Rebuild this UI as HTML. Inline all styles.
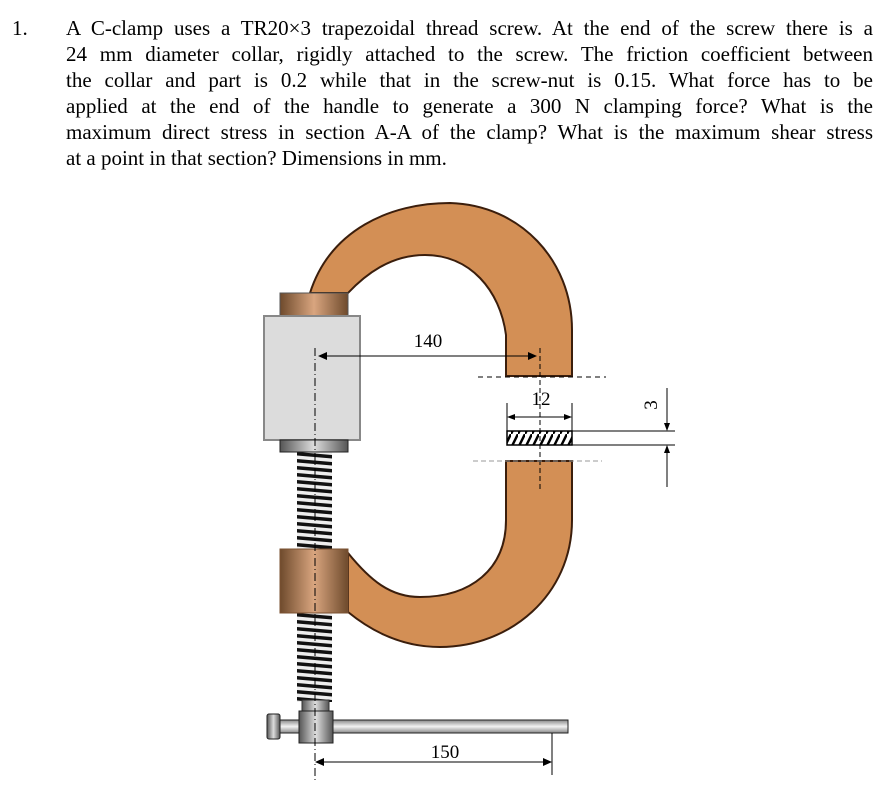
<!DOCTYPE html>
<html><head><style>
body{margin:0;background:#fff;width:888px;height:794px;overflow:hidden;font-family:"Liberation Serif",serif}
#n{position:absolute;left:12px;top:16px;font-size:21px}
#p{position:absolute;left:66px;top:15px;width:807px;font-size:21px;line-height:26px;color:#000}
#p div{text-align:justify;text-align-last:justify;white-space:nowrap;height:26px}
#p div.l{text-align-last:left}
svg{position:absolute;left:0;top:0}
</style></head><body>
<div id="n">1.</div>
<div id="p">
<div>A C-clamp uses a TR20×3 trapezoidal thread screw. At the end of the screw there is a</div>
<div>24 mm diameter collar, rigidly attached to the screw. The friction coefficient between</div>
<div>the collar and part is 0.2 while that in the screw-nut is 0.15. What force has to be</div>
<div>applied at the end of the handle to generate a 300 N clamping force? What is the</div>
<div>maximum direct stress in section A-A of the clamp? What is the maximum shear stress</div>
<div class="l">at a point in that section? Dimensions in mm.</div>
</div>
<svg width="888" height="794" viewBox="0 0 888 794">
<defs>
<linearGradient id="br" x1="0" x2="1"><stop offset="0" stop-color="#6e4a2c"/><stop offset="0.5" stop-color="#d9a57f"/><stop offset="1" stop-color="#6e4a2c"/></linearGradient>
<linearGradient id="gr" x1="0" x2="1"><stop offset="0" stop-color="#555"/><stop offset="0.5" stop-color="#ddd"/><stop offset="1" stop-color="#555"/></linearGradient>
<linearGradient id="gv" x1="0" y1="0" x2="0" y2="1"><stop offset="0" stop-color="#888"/><stop offset="0.5" stop-color="#f2f2f2"/><stop offset="1" stop-color="#888"/></linearGradient>
<pattern id="h" width="7" height="14" patternUnits="userSpaceOnUse"><path d="M0 14 L7 0" stroke="#000" stroke-width="2.5"/></pattern>
<pattern id="th" x="297" y="452" width="35" height="7" patternUnits="userSpaceOnUse"><rect width="35" height="7" fill="#eee"/><path d="M0 0 L35 3 L35 6.5 L0 3.5Z" fill="#111"/></pattern>
</defs>
<path d="M310 293 C330 230 390 203 450 203 C520 205 572 260 572 330 L572 376 L506 376 L506 335 C500 290 470 255 425 255 C390 255 365 275 348 293 Z" fill="#d38f55" stroke="#3b1e0c" stroke-width="2"/>
<path d="M348 553 C370 580 390 597 420 597 C470 597 506 570 506 520 L506 461 L572 461 L572 520 C572 595 510 647 440 647 C400 647 370 630 348 612 Z" fill="#d38f55" stroke="#3b1e0c" stroke-width="2"/>
<rect x="297" y="452" width="35" height="250" fill="url(#th)"/>
<rect x="302" y="700" width="27" height="12" fill="url(#gr)" stroke="#333"/>
<rect x="280" y="293" width="68" height="23" fill="url(#br)" stroke="#555"/>
<rect x="264" y="316" width="96" height="124" fill="#dcdcdc" stroke="#888" stroke-width="2"/>
<rect x="280" y="440" width="68" height="12" fill="url(#gr)" stroke="#222"/>
<rect x="280" y="549" width="68" height="64" fill="url(#br)" stroke="#7a5030"/>
<rect x="280" y="720" width="288" height="13" fill="url(#gv)" stroke="#222"/>
<rect x="267" y="714" width="13" height="25" rx="2" fill="url(#gr)" stroke="#222"/>
<rect x="299" y="711" width="34" height="32" fill="url(#gr)" stroke="#222"/>
<line x1="315" y1="348" x2="315" y2="782" stroke="#000" stroke-dasharray="8,3,1,3"/>
<line x1="320" y1="356" x2="535" y2="356" stroke="#000"/>
<path d="M318 356 l9 -4 v8z M537 356 l-9 -4 v8z"/>
<text x="428" y="347" font-size="19" text-anchor="middle">140</text>
<line x1="540" y1="348" x2="540" y2="490" stroke="#000" stroke-dasharray="5,3"/>
<line x1="478" y1="377" x2="606" y2="377" stroke="#000" stroke-dasharray="5,4"/>
<line x1="473" y1="461" x2="602" y2="461" stroke="#999" stroke-dasharray="5,3"/>
<text x="541" y="405" font-size="19" text-anchor="middle">12</text>
<line x1="507" y1="403" x2="507" y2="431" stroke="#000"/>
<line x1="572" y1="403" x2="572" y2="431" stroke="#000"/>
<line x1="509" y1="417" x2="570" y2="417" stroke="#000"/>
<path d="M507 417 l8 -3 v6z M572 417 l-8 -3 v6z"/>
<rect x="507" y="431" width="65" height="14" fill="url(#h)" stroke="#000" stroke-width="1.5"/>
<line x1="572" y1="431" x2="675" y2="431" stroke="#000"/>
<line x1="572" y1="445" x2="675" y2="445" stroke="#000"/>
<line x1="667" y1="388" x2="667" y2="430" stroke="#000"/>
<path d="M667 431 l-3 -8 h6z M667 445 l-3 8 h6z"/>
<line x1="667" y1="446" x2="667" y2="487" stroke="#000"/>
<text transform="translate(657,405) rotate(-90)" font-size="19" text-anchor="middle">3</text>
<line x1="552" y1="733" x2="552" y2="775" stroke="#000"/>
<line x1="317" y1="762" x2="550" y2="762" stroke="#000"/>
<path d="M315 762 l9 -4 v8z M552 762 l-9 -4 v8z"/>
<text x="445" y="758" font-size="19" text-anchor="middle">150</text>
</svg>
</body></html>
